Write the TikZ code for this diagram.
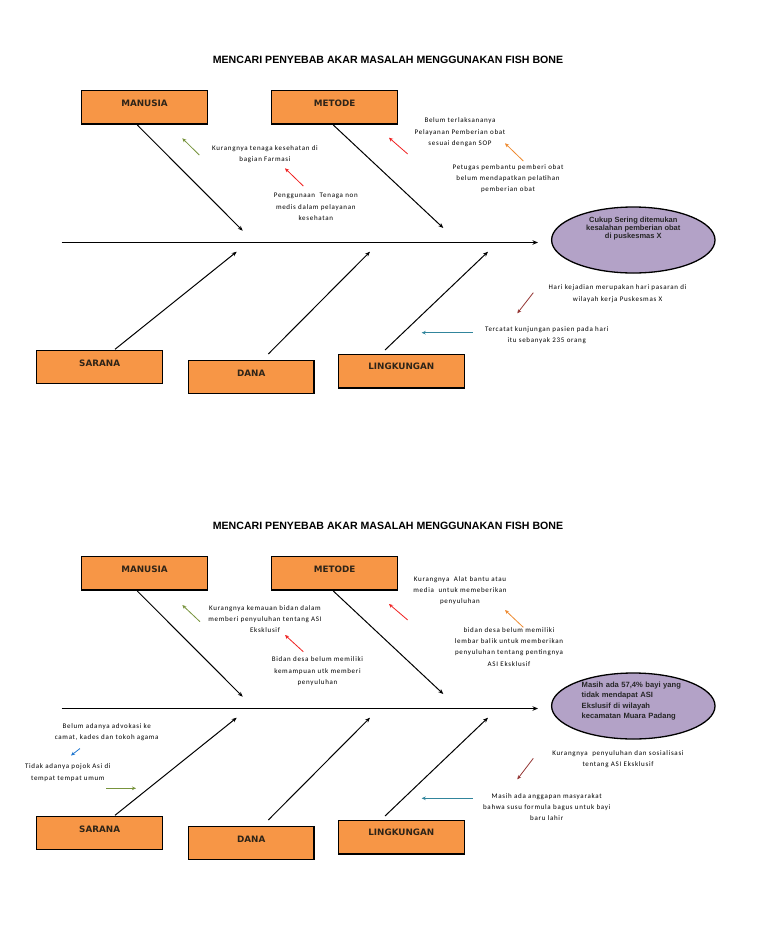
\documentclass[tikz,border=0pt]{standalone}
\usepackage{fontspec}
\setmainfont{Carlito}
\newfontfamily\titlefont{Liberation Sans}
\newfontfamily\boxfont{DejaVu Sans}
\newfontfamily\notefont[LetterSpace=10]{Carlito}
\usetikzlibrary{arrows.meta,shapes.geometric}
\definecolor{boxorange}{HTML}{F79646}
\definecolor{ellfill}{HTML}{B3A2C7}
\definecolor{labeltext}{HTML}{2E2418}
\definecolor{agreen}{HTML}{77933C}
\definecolor{ared}{HTML}{F02020}
\definecolor{aorange}{HTML}{EE8A30}
\definecolor{abrown}{HTML}{953735}
\definecolor{ateal}{HTML}{31859C}
\definecolor{ablue}{HTML}{1F77D0}
\tikzset{
  catbox/.style={draw=black, line width=1.1pt, fill=boxorange, minimum width=125.6pt, minimum height=33.3pt, inner sep=0pt},
  catlabel/.style={font=\boxfont\bfseries\fontsize{8.8}{10}\selectfont, text=labeltext, inner sep=0pt},
  note/.style={font=\notefont\fontsize{7}{11.3}\selectfont, align=center, inner sep=0pt, text=black},
  effect/.style={ellipse, draw=black, line width=1.3pt, fill=ellfill, minimum width=163.4pt, minimum height=66pt, inner sep=0pt},
  efftext/.style={font=\titlefont\bfseries\fontsize{7.5}{8.4}\selectfont, text=black!85, inner sep=0pt},
  bone/.style={line width=1pt, -{Stealth[length=5pt,width=4pt]}},
  spine/.style={line width=1.5pt, -{Stealth[length=5.5pt,width=4.5pt]}},
  hint/.style={line width=0.8pt, -{Stealth[length=4pt,width=3.6pt]}},
  ttl/.style={font=\titlefont\bfseries\fontsize{10.6}{12}\selectfont, inner sep=0pt}
}
\begin{document}
\begin{tikzpicture}[x=1pt,y=-1pt]
\useasboundingbox (0,0) rectangle (768,932);
\fill[white] (0,0) rectangle (768,932);

% ================= TOP DIAGRAM =================
\node[ttl] (title1) at (388,60) {MENCARI PENYEBAB AKAR MASALAH MENGGUNAKAN FISH BONE};

\node[catbox, label={[catlabel, yshift=4pt]center:MANUSIA}] (man1) at (144.5,107.3) {};
\node[catbox, label={[catlabel, yshift=4pt]center:METODE}] (met1) at (334.7,107.3) {};
\node[catbox, label={[catlabel, yshift=3.4pt]center:SARANA}] (sar1) at (99.7,366.7) {};
\node[catbox, label={[catlabel, yshift=3.7pt]center:DANA}] (dan1) at (251.2,377) {};
\node[catbox, label={[catlabel, yshift=4.6pt]center:LINGKUNGAN}] (lin1) at (401.3,371.3) {};
\node[effect, label={[efftext, align=center, yshift=11.5pt]center:Cukup Sering ditemukan\\kesalahan pemberian obat\\di puskesmas X}] (eff1) at (633.3,240) {};

\coordinate (s1a) at (61.7,242.5);
\coordinate (s1b) at (538,242.5);
\draw[spine] (s1a) -- (s1b);

\coordinate (bm1a) at (137.3,125); \coordinate (bm1b) at (242.7,230.7);
\coordinate (bt1a) at (333.3,125); \coordinate (bt1b) at (443.3,228);
\coordinate (bs1a) at (115,349.3); \coordinate (bs1b) at (236.7,251.7);
\coordinate (bd1a) at (268.3,354); \coordinate (bd1b) at (370,251.7);
\coordinate (bl1a) at (385,350);   \coordinate (bl1b) at (488,251.7);
\draw[bone] (bm1a) -- (bm1b);
\draw[bone] (bt1a) -- (bt1b);
\draw[bone] (bs1a) -- (bs1b);
\draw[bone] (bd1a) -- (bd1b);
\draw[bone] (bl1a) -- (bl1b);

\node[note] (n1) at (265,154.5) {Kurangnya tenaga kesehatan di\\bagian Farmasi};
\node[note] (n2) at (315.8,207) {Penggunaan\ \ Tenaga non\\medis dalam pelayanan\\kesehatan};
\node[note] (n3) at (460,132.2) {Belum terlaksananya\\Pelayanan Pemberian obat\\sesuai dengan SOP};
\node[note] (n4) at (508,178.7) {Petugas pembantu pemberi obat\\belum mendapatkan pelatihan\\pemberian obat};
\node[note] (n5) at (617.5,293.8) {Hari kejadian merupakan hari pasaran di\\wilayah kerja Puskesmas X};
\node[note] (n6) at (546.7,335.5) {Tercatat kunjungan pasien pada hari\\itu sebanyak 235 orang};

\coordinate (g1a) at (199.3,155);   \coordinate (g1b) at (182.3,138.3);
\coordinate (r1a) at (303.3,186);   \coordinate (r1b) at (285,168.3);
\coordinate (r2a) at (407.7,154);   \coordinate (r2b) at (389,137.7);
\coordinate (o1a) at (523.3,161);   \coordinate (o1b) at (505,143.3);
\coordinate (w1a) at (533.3,292.7); \coordinate (w1b) at (517.3,313.3);
\coordinate (t1a) at (472.7,332.7); \coordinate (t1b) at (421.7,332.7);
\draw[hint, agreen] (g1a) -- (g1b);
\draw[hint, ared] (r1a) -- (r1b);
\draw[hint, ared] (r2a) -- (r2b);
\draw[hint, aorange] (o1a) -- (o1b);
\draw[hint, abrown] (w1a) -- (w1b);
\draw[hint, ateal] (t1a) -- (t1b);

% ================= BOTTOM DIAGRAM =================
\node[ttl] (title2) at (388,526) {MENCARI PENYEBAB AKAR MASALAH MENGGUNAKAN FISH BONE};

\node[catbox, label={[catlabel, yshift=4pt]center:MANUSIA}] (man2) at (144.5,573.3) {};
\node[catbox, label={[catlabel, yshift=4pt]center:METODE}] (met2) at (334.7,573.3) {};
\node[catbox, label={[catlabel, yshift=3.4pt]center:SARANA}] (sar2) at (99.7,832.7) {};
\node[catbox, label={[catlabel, yshift=3.7pt]center:DANA}] (dan2) at (251.2,843) {};
\node[catbox, label={[catlabel, yshift=4.6pt]center:LINGKUNGAN}] (lin2) at (401.3,837.3) {};
\node[effect, label={[efftext, align=left, text width=108pt, xshift=2.4pt, yshift=5pt, font=\titlefont\bfseries\fontsize{7.6}{10.3}\selectfont]center:Masih ada 57,4\% bayi yang\\tidak mendapat ASI\\Ekslusif di wilayah\\kecamatan Muara Padang}] (eff2) at (633.3,706) {};

\coordinate (s2a) at (61.7,708.5);
\coordinate (s2b) at (538,708.5);
\draw[spine] (s2a) -- (s2b);

\coordinate (bm2a) at (137.3,591); \coordinate (bm2b) at (242.7,696.7);
\coordinate (bt2a) at (333.3,591); \coordinate (bt2b) at (443.3,694);
\coordinate (bs2a) at (115,815.3); \coordinate (bs2b) at (236.7,717.7);
\coordinate (bd2a) at (268.3,820); \coordinate (bd2b) at (370,717.7);
\coordinate (bl2a) at (385,816);   \coordinate (bl2b) at (488,717.7);
\draw[bone] (bm2a) -- (bm2b);
\draw[bone] (bt2a) -- (bt2b);
\draw[bone] (bs2a) -- (bs2b);
\draw[bone] (bd2a) -- (bd2b);
\draw[bone] (bl2a) -- (bl2b);

\node[note] (m1) at (265,619.2) {Kurangnya kemauan bidan dalam\\memberi penyuluhan tentang ASI\\Eksklusif};
\node[note] (m2) at (317.5,671.2) {Bidan desa belum memiliki\\kemampuan utk memberi\\penyuluhan};
\node[note] (m3) at (460,590.8) {Kurangnya\ \ Alat bantu atau\\media\ \ untuk memeberikan\\penyuluhan};
\node[note] (m4) at (509,646.7) {bidan desa belum memiliki\\lembar balik untuk memberikan\\penyuluhan tentang pentingnya\\ASI Eksklusif};
\node[note] (m5) at (618,759.2) {Kurangnya\ \ penyuluhan dan sosialisasi\\tentang ASI Eksklusif};
\node[note] (m6) at (546.7,807.2) {Masih ada anggapan masyarakat\\bahwa susu formula bagus\ untuk bayi\\baru lahir};
\node[note] (m7) at (106.7,732.2) {Belum adanya\ advokasi ke\\camat, kades dan tokoh agama};
\node[note] (m8) at (67.8,772.7) {Tidak adanya pojok Asi di\\tempat tempat umum};

\coordinate (g2a) at (200,621.7);   \coordinate (g2b) at (182.3,605);
\coordinate (r3a) at (303.3,651.7); \coordinate (r3b) at (285,635);
\coordinate (r4a) at (407.7,620);   \coordinate (r4b) at (389,604);
\coordinate (o2a) at (523.3,627.3); \coordinate (o2b) at (505,610);
\coordinate (w2a) at (533.3,758.3); \coordinate (w2b) at (517.3,779.3);
\coordinate (t2a) at (472.7,798.3); \coordinate (t2b) at (421.7,798.3);
\coordinate (u2a) at (80,748.5);    \coordinate (u2b) at (71,755.5);
\coordinate (g3a) at (106,788.3);   \coordinate (g3b) at (136,788.3);
\draw[hint, agreen] (g2a) -- (g2b);
\draw[hint, ared] (r3a) -- (r3b);
\draw[hint, ared] (r4a) -- (r4b);
\draw[hint, aorange] (o2a) -- (o2b);
\draw[hint, abrown] (w2a) -- (w2b);
\draw[hint, ateal] (t2a) -- (t2b);
\draw[hint, ablue] (u2a) -- (u2b);
\draw[hint, agreen] (g3a) -- (g3b);
\end{tikzpicture}
\end{document}
